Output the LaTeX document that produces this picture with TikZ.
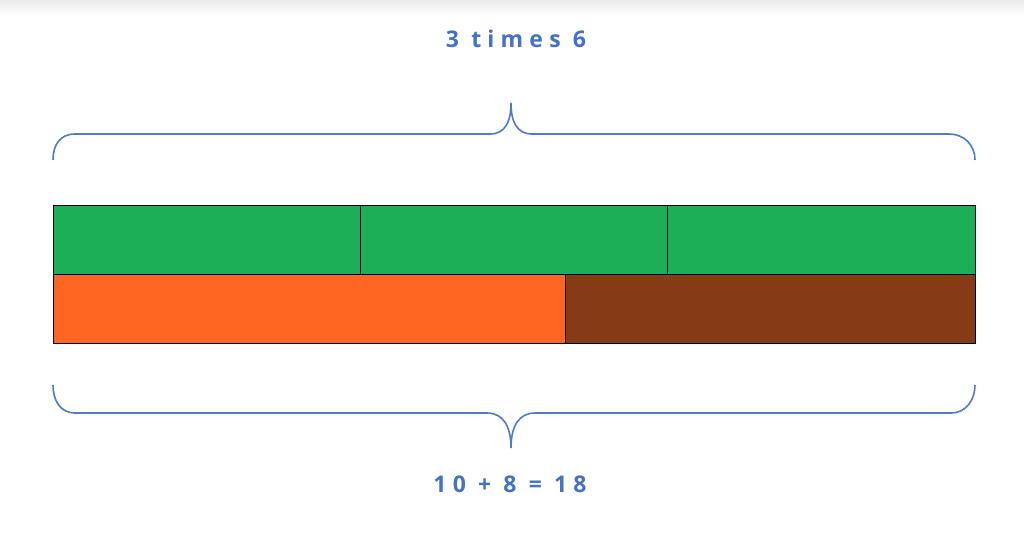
\documentclass[tikz,border=0pt]{standalone}
\usepackage{fontspec}
\setmainfont{Open Sans}
\definecolor{barGreen}{RGB}{28,175,88}
\definecolor{barOrange}{RGB}{255,102,34}
\definecolor{barBrown}{RGB}{132,59,22}
\definecolor{braceBlue}{RGB}{79,124,202}
\definecolor{labelBlue}{RGB}{68,114,196}
\tikzset{
	bar/.style={draw=black, line width=0.8pt, minimum height=69pt, inner sep=0pt, outer sep=0pt, anchor=north west},
	brace/.style={draw=braceBlue, line width=1.6pt},
	label/.style={text=labelBlue, font=\fontsize{23}{27}\selectfont\bfseries\addfontfeatures{LetterSpace=27}}
}

\begin{document}
\begin{tikzpicture}[x=1pt,y=1pt,yscale=-1,xscale=1]
	\useasboundingbox (0,0) rectangle (1024,543);
	\fill[white] (0,0) rectangle (1024,543);
	\shade[top color=black!8, bottom color=white] (0,0) rectangle (1024,16);
	% green row: three times six
	\node[bar, fill=barGreen, minimum width=307.33pt] (g1) at (53,205) {};
	\node[bar, fill=barGreen, minimum width=307.33pt] (g2) at (g1.north east) {};
	\node[bar, fill=barGreen, minimum width=307.33pt] (g3) at (g2.north east) {};
	% lower row: ten plus eight
	\node[bar, fill=barOrange, minimum width=512.22pt] (ten) at (g1.south west) {};
	\node[bar, fill=barBrown, minimum width=409.78pt] (eight) at (ten.north east) {};
	% braces
	\draw[brace] (53,160) .. controls (53,145) and (60,134) .. (75,134) -- (490,134) .. controls (505,134) and (511,122) .. (511,103)
		.. controls (511,122) and (517,134) .. (532,134) -- (949,134) .. controls (964,134) and (975,145) .. (975,160);
	\draw[brace] (53,385) .. controls (53,400) and (60,413) .. (75,413) -- (487,413) .. controls (503,413) and (511,426) .. (511,448)
		.. controls (511,426) and (519,413) .. (535,413) -- (951,413) .. controls (966,413) and (975,400) .. (975,385);
	\node[label] (top) at (516,39) {3 times 6};
	\node[label] (sum) at (510,484) {10 + 8 = 18};
\end{tikzpicture}
\end{document}
